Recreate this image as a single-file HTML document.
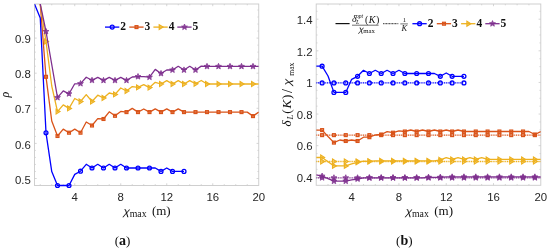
<!DOCTYPE html>
<html><head><meta charset="utf-8"><style>
html,body{margin:0;padding:0;background:#fff;}
body{width:550px;height:251px;overflow:hidden;font-family:"Liberation Sans",sans-serif;}
svg{display:block;will-change:transform;}
</style></head><body>
<svg width="550" height="251" viewBox="0 0 550 251">
<rect x="34.5" y="4.0" width="224.25" height="181.5" fill="none" stroke="#cbcbcb" stroke-width="0.9"/><path d="M74.75,185.5v-2.2M74.75,4.0v2.2M120.75,185.5v-2.2M120.75,4.0v2.2M166.75,185.5v-2.2M166.75,4.0v2.2M212.75,185.5v-2.2M212.75,4.0v2.2M40.25,185.5v-1.32M40.25,4.0v1.32M51.75,185.5v-1.32M51.75,4.0v1.32M63.25,185.5v-1.32M63.25,4.0v1.32M86.25,185.5v-1.32M86.25,4.0v1.32M97.75,185.5v-1.32M97.75,4.0v1.32M109.25,185.5v-1.32M109.25,4.0v1.32M132.25,185.5v-1.32M132.25,4.0v1.32M143.75,185.5v-1.32M143.75,4.0v1.32M155.25,185.5v-1.32M155.25,4.0v1.32M178.25,185.5v-1.32M178.25,4.0v1.32M189.75,185.5v-1.32M189.75,4.0v1.32M201.25,185.5v-1.32M201.25,4.0v1.32M224.25,185.5v-1.32M224.25,4.0v1.32M235.75,185.5v-1.32M235.75,4.0v1.32M247.25,185.5v-1.32M247.25,4.0v1.32M34.5,178.50h2.2M258.75,178.50h-2.2M34.5,143.40h2.2M258.75,143.40h-2.2M34.5,108.30h2.2M258.75,108.30h-2.2M34.5,73.20h2.2M258.75,73.20h-2.2M34.5,38.10h2.2M258.75,38.10h-2.2M34.5,171.48h1.32M258.75,171.48h-1.32M34.5,164.46h1.32M258.75,164.46h-1.32M34.5,157.44h1.32M258.75,157.44h-1.32M34.5,150.42h1.32M258.75,150.42h-1.32M34.5,136.38h1.32M258.75,136.38h-1.32M34.5,129.36h1.32M258.75,129.36h-1.32M34.5,122.34h1.32M258.75,122.34h-1.32M34.5,115.32h1.32M258.75,115.32h-1.32M34.5,101.28h1.32M258.75,101.28h-1.32M34.5,94.26h1.32M258.75,94.26h-1.32M34.5,87.24h1.32M258.75,87.24h-1.32M34.5,80.22h1.32M258.75,80.22h-1.32M34.5,66.18h1.32M258.75,66.18h-1.32M34.5,59.16h1.32M258.75,59.16h-1.32M34.5,52.14h1.32M258.75,52.14h-1.32M34.5,45.12h1.32M258.75,45.12h-1.32M34.5,31.08h1.32M258.75,31.08h-1.32M34.5,24.06h1.32M258.75,24.06h-1.32M34.5,17.04h1.32M258.75,17.04h-1.32M34.5,10.02h1.32M258.75,10.02h-1.32" stroke="#cbcbcb" stroke-width="0.8" fill="none"/>
<defs><clipPath id="cl"><rect x="34.5" y="4.0" width="224.25" height="184.5"/></clipPath><clipPath id="cr"><rect x="316.2" y="4" width="224.6" height="181.3"/></clipPath></defs>
<g clip-path="url(#cl)">
<polyline points="40.25,4.00 46.00,76.80 51.75,121.00 57.50,136.00 63.25,129.10 69.00,132.70 74.75,129.10 80.50,132.70 86.25,122.00 92.00,125.50 97.75,118.60 103.50,119.00 109.25,111.80 115.00,115.80 120.75,111.40 126.50,112.10 132.25,108.40 138.00,112.10 143.75,109.00 149.50,112.10 155.25,108.90 161.00,112.10 166.75,108.90 172.50,112.10 178.25,108.90 184.00,112.10 189.75,112.10 195.50,112.10 201.25,112.10 207.00,112.10 212.75,112.10 218.50,112.10 224.25,112.10 230.00,112.10 235.75,112.10 241.50,112.10 247.25,112.10 253.00,116.10 258.75,112.10" fill="none" stroke="#d95319" stroke-width="1.3" stroke-linejoin="round"/><rect x="44.55" y="75.35" width="2.90" height="2.90" fill="#d95319" fill-opacity="0.45" stroke="#d95319" stroke-width="1.2"/><rect x="56.05" y="134.55" width="2.90" height="2.90" fill="#d95319" fill-opacity="0.45" stroke="#d95319" stroke-width="1.2"/><rect x="67.55" y="131.25" width="2.90" height="2.90" fill="#d95319" fill-opacity="0.45" stroke="#d95319" stroke-width="1.2"/><rect x="79.05" y="131.25" width="2.90" height="2.90" fill="#d95319" fill-opacity="0.45" stroke="#d95319" stroke-width="1.2"/><rect x="90.55" y="124.05" width="2.90" height="2.90" fill="#d95319" fill-opacity="0.45" stroke="#d95319" stroke-width="1.2"/><rect x="102.05" y="117.55" width="2.90" height="2.90" fill="#d95319" fill-opacity="0.45" stroke="#d95319" stroke-width="1.2"/><rect x="113.55" y="114.35" width="2.90" height="2.90" fill="#d95319" fill-opacity="0.45" stroke="#d95319" stroke-width="1.2"/><rect x="125.05" y="110.65" width="2.90" height="2.90" fill="#d95319" fill-opacity="0.45" stroke="#d95319" stroke-width="1.2"/><rect x="136.55" y="110.65" width="2.90" height="2.90" fill="#d95319" fill-opacity="0.45" stroke="#d95319" stroke-width="1.2"/><rect x="148.05" y="110.65" width="2.90" height="2.90" fill="#d95319" fill-opacity="0.45" stroke="#d95319" stroke-width="1.2"/><rect x="159.55" y="110.65" width="2.90" height="2.90" fill="#d95319" fill-opacity="0.45" stroke="#d95319" stroke-width="1.2"/><rect x="171.05" y="110.65" width="2.90" height="2.90" fill="#d95319" fill-opacity="0.45" stroke="#d95319" stroke-width="1.2"/><rect x="182.55" y="110.65" width="2.90" height="2.90" fill="#d95319" fill-opacity="0.45" stroke="#d95319" stroke-width="1.2"/><rect x="194.05" y="110.65" width="2.90" height="2.90" fill="#d95319" fill-opacity="0.45" stroke="#d95319" stroke-width="1.2"/><rect x="205.55" y="110.65" width="2.90" height="2.90" fill="#d95319" fill-opacity="0.45" stroke="#d95319" stroke-width="1.2"/><rect x="217.05" y="110.65" width="2.90" height="2.90" fill="#d95319" fill-opacity="0.45" stroke="#d95319" stroke-width="1.2"/><rect x="228.55" y="110.65" width="2.90" height="2.90" fill="#d95319" fill-opacity="0.45" stroke="#d95319" stroke-width="1.2"/><rect x="240.05" y="110.65" width="2.90" height="2.90" fill="#d95319" fill-opacity="0.45" stroke="#d95319" stroke-width="1.2"/><rect x="251.55" y="114.65" width="2.90" height="2.90" fill="#d95319" fill-opacity="0.45" stroke="#d95319" stroke-width="1.2"/>
<polyline points="40.25,4.00 46.00,41.50 51.75,86.00 57.50,111.60 63.25,104.90 69.00,108.40 74.75,98.50 80.50,101.50 86.25,94.60 92.00,101.50 97.75,95.20 103.50,98.00 109.25,93.00 115.00,94.40 120.75,88.00 126.50,91.00 132.25,86.60 138.00,87.40 143.75,84.60 149.50,87.60 155.25,82.30 161.00,84.00 166.75,80.60 172.50,84.00 178.25,80.60 184.00,84.00 189.75,80.60 195.50,83.80 201.25,80.50 207.00,84.00 212.75,84.00 218.50,84.00 224.25,84.00 230.00,84.00 235.75,84.00 241.50,84.00 247.25,84.00 253.00,84.00 258.75,84.00" fill="none" stroke="#edb120" stroke-width="1.3" stroke-linejoin="round"/><polygon points="44.60,39.10 48.50,41.50 44.60,43.90" fill="#edb120" fill-opacity="0.45" stroke="#edb120" stroke-width="1.15" stroke-linejoin="miter"/><polygon points="56.10,109.20 60.00,111.60 56.10,114.00" fill="#edb120" fill-opacity="0.45" stroke="#edb120" stroke-width="1.15" stroke-linejoin="miter"/><polygon points="67.60,106.00 71.50,108.40 67.60,110.80" fill="#edb120" fill-opacity="0.45" stroke="#edb120" stroke-width="1.15" stroke-linejoin="miter"/><polygon points="79.10,99.10 83.00,101.50 79.10,103.90" fill="#edb120" fill-opacity="0.45" stroke="#edb120" stroke-width="1.15" stroke-linejoin="miter"/><polygon points="90.60,99.10 94.50,101.50 90.60,103.90" fill="#edb120" fill-opacity="0.45" stroke="#edb120" stroke-width="1.15" stroke-linejoin="miter"/><polygon points="102.10,95.60 106.00,98.00 102.10,100.40" fill="#edb120" fill-opacity="0.45" stroke="#edb120" stroke-width="1.15" stroke-linejoin="miter"/><polygon points="113.60,92.00 117.50,94.40 113.60,96.80" fill="#edb120" fill-opacity="0.45" stroke="#edb120" stroke-width="1.15" stroke-linejoin="miter"/><polygon points="125.10,88.60 129.00,91.00 125.10,93.40" fill="#edb120" fill-opacity="0.45" stroke="#edb120" stroke-width="1.15" stroke-linejoin="miter"/><polygon points="136.60,85.00 140.50,87.40 136.60,89.80" fill="#edb120" fill-opacity="0.45" stroke="#edb120" stroke-width="1.15" stroke-linejoin="miter"/><polygon points="148.10,85.20 152.00,87.60 148.10,90.00" fill="#edb120" fill-opacity="0.45" stroke="#edb120" stroke-width="1.15" stroke-linejoin="miter"/><polygon points="159.60,81.60 163.50,84.00 159.60,86.40" fill="#edb120" fill-opacity="0.45" stroke="#edb120" stroke-width="1.15" stroke-linejoin="miter"/><polygon points="171.10,81.60 175.00,84.00 171.10,86.40" fill="#edb120" fill-opacity="0.45" stroke="#edb120" stroke-width="1.15" stroke-linejoin="miter"/><polygon points="182.60,81.60 186.50,84.00 182.60,86.40" fill="#edb120" fill-opacity="0.45" stroke="#edb120" stroke-width="1.15" stroke-linejoin="miter"/><polygon points="194.10,81.40 198.00,83.80 194.10,86.20" fill="#edb120" fill-opacity="0.45" stroke="#edb120" stroke-width="1.15" stroke-linejoin="miter"/><polygon points="205.60,81.60 209.50,84.00 205.60,86.40" fill="#edb120" fill-opacity="0.45" stroke="#edb120" stroke-width="1.15" stroke-linejoin="miter"/><polygon points="217.10,81.60 221.00,84.00 217.10,86.40" fill="#edb120" fill-opacity="0.45" stroke="#edb120" stroke-width="1.15" stroke-linejoin="miter"/><polygon points="228.60,81.60 232.50,84.00 228.60,86.40" fill="#edb120" fill-opacity="0.45" stroke="#edb120" stroke-width="1.15" stroke-linejoin="miter"/><polygon points="240.10,81.60 244.00,84.00 240.10,86.40" fill="#edb120" fill-opacity="0.45" stroke="#edb120" stroke-width="1.15" stroke-linejoin="miter"/><polygon points="251.60,81.60 255.50,84.00 251.60,86.40" fill="#edb120" fill-opacity="0.45" stroke="#edb120" stroke-width="1.15" stroke-linejoin="miter"/>
<polyline points="40.25,4.00 46.00,31.50 51.75,64.50 57.50,97.60 63.25,90.80 69.00,93.80 74.75,83.80 80.50,83.60 86.25,77.20 92.00,80.30 97.75,77.40 103.50,80.40 109.25,77.40 115.00,80.40 120.75,77.40 126.50,80.40 132.25,77.00 138.00,76.60 143.75,76.60 149.50,77.20 155.25,69.40 161.00,73.50 166.75,70.00 172.50,70.00 178.25,66.30 184.00,70.00 189.75,66.30 195.50,70.00 201.25,66.10 207.00,66.40 212.75,66.40 218.50,66.40 224.25,66.40 230.00,66.40 235.75,66.40 241.50,66.40 247.25,66.40 253.00,66.40 258.75,66.40" fill="none" stroke="#7e2f8e" stroke-width="1.3" stroke-linejoin="round"/><polygon points="46.00,28.40 46.82,30.37 48.95,30.54 47.33,31.93 47.82,34.01 46.00,32.90 44.18,34.01 44.67,31.93 43.05,30.54 45.18,30.37" fill="#7e2f8e" fill-opacity="0.8" stroke="#7e2f8e" stroke-width="0.7" stroke-linejoin="miter"/><polygon points="57.50,94.50 58.32,96.47 60.45,96.64 58.83,98.03 59.32,100.11 57.50,99.00 55.68,100.11 56.17,98.03 54.55,96.64 56.68,96.47" fill="#7e2f8e" fill-opacity="0.8" stroke="#7e2f8e" stroke-width="0.7" stroke-linejoin="miter"/><polygon points="69.00,90.70 69.82,92.67 71.95,92.84 70.33,94.23 70.82,96.31 69.00,95.20 67.18,96.31 67.67,94.23 66.05,92.84 68.18,92.67" fill="#7e2f8e" fill-opacity="0.8" stroke="#7e2f8e" stroke-width="0.7" stroke-linejoin="miter"/><polygon points="80.50,80.50 81.32,82.47 83.45,82.64 81.83,84.03 82.32,86.11 80.50,85.00 78.68,86.11 79.17,84.03 77.55,82.64 79.68,82.47" fill="#7e2f8e" fill-opacity="0.8" stroke="#7e2f8e" stroke-width="0.7" stroke-linejoin="miter"/><polygon points="92.00,77.20 92.82,79.17 94.95,79.34 93.33,80.73 93.82,82.81 92.00,81.70 90.18,82.81 90.67,80.73 89.05,79.34 91.18,79.17" fill="#7e2f8e" fill-opacity="0.8" stroke="#7e2f8e" stroke-width="0.7" stroke-linejoin="miter"/><polygon points="103.50,77.30 104.32,79.27 106.45,79.44 104.83,80.83 105.32,82.91 103.50,81.80 101.68,82.91 102.17,80.83 100.55,79.44 102.68,79.27" fill="#7e2f8e" fill-opacity="0.8" stroke="#7e2f8e" stroke-width="0.7" stroke-linejoin="miter"/><polygon points="115.00,77.30 115.82,79.27 117.95,79.44 116.33,80.83 116.82,82.91 115.00,81.80 113.18,82.91 113.67,80.83 112.05,79.44 114.18,79.27" fill="#7e2f8e" fill-opacity="0.8" stroke="#7e2f8e" stroke-width="0.7" stroke-linejoin="miter"/><polygon points="126.50,77.30 127.32,79.27 129.45,79.44 127.83,80.83 128.32,82.91 126.50,81.80 124.68,82.91 125.17,80.83 123.55,79.44 125.68,79.27" fill="#7e2f8e" fill-opacity="0.8" stroke="#7e2f8e" stroke-width="0.7" stroke-linejoin="miter"/><polygon points="138.00,73.50 138.82,75.47 140.95,75.64 139.33,77.03 139.82,79.11 138.00,78.00 136.18,79.11 136.67,77.03 135.05,75.64 137.18,75.47" fill="#7e2f8e" fill-opacity="0.8" stroke="#7e2f8e" stroke-width="0.7" stroke-linejoin="miter"/><polygon points="149.50,74.10 150.32,76.07 152.45,76.24 150.83,77.63 151.32,79.71 149.50,78.60 147.68,79.71 148.17,77.63 146.55,76.24 148.68,76.07" fill="#7e2f8e" fill-opacity="0.8" stroke="#7e2f8e" stroke-width="0.7" stroke-linejoin="miter"/><polygon points="161.00,70.40 161.82,72.37 163.95,72.54 162.33,73.93 162.82,76.01 161.00,74.90 159.18,76.01 159.67,73.93 158.05,72.54 160.18,72.37" fill="#7e2f8e" fill-opacity="0.8" stroke="#7e2f8e" stroke-width="0.7" stroke-linejoin="miter"/><polygon points="172.50,66.90 173.32,68.87 175.45,69.04 173.83,70.43 174.32,72.51 172.50,71.40 170.68,72.51 171.17,70.43 169.55,69.04 171.68,68.87" fill="#7e2f8e" fill-opacity="0.8" stroke="#7e2f8e" stroke-width="0.7" stroke-linejoin="miter"/><polygon points="184.00,66.90 184.82,68.87 186.95,69.04 185.33,70.43 185.82,72.51 184.00,71.40 182.18,72.51 182.67,70.43 181.05,69.04 183.18,68.87" fill="#7e2f8e" fill-opacity="0.8" stroke="#7e2f8e" stroke-width="0.7" stroke-linejoin="miter"/><polygon points="195.50,66.90 196.32,68.87 198.45,69.04 196.83,70.43 197.32,72.51 195.50,71.40 193.68,72.51 194.17,70.43 192.55,69.04 194.68,68.87" fill="#7e2f8e" fill-opacity="0.8" stroke="#7e2f8e" stroke-width="0.7" stroke-linejoin="miter"/><polygon points="207.00,63.30 207.82,65.27 209.95,65.44 208.33,66.83 208.82,68.91 207.00,67.80 205.18,68.91 205.67,66.83 204.05,65.44 206.18,65.27" fill="#7e2f8e" fill-opacity="0.8" stroke="#7e2f8e" stroke-width="0.7" stroke-linejoin="miter"/><polygon points="218.50,63.30 219.32,65.27 221.45,65.44 219.83,66.83 220.32,68.91 218.50,67.80 216.68,68.91 217.17,66.83 215.55,65.44 217.68,65.27" fill="#7e2f8e" fill-opacity="0.8" stroke="#7e2f8e" stroke-width="0.7" stroke-linejoin="miter"/><polygon points="230.00,63.30 230.82,65.27 232.95,65.44 231.33,66.83 231.82,68.91 230.00,67.80 228.18,68.91 228.67,66.83 227.05,65.44 229.18,65.27" fill="#7e2f8e" fill-opacity="0.8" stroke="#7e2f8e" stroke-width="0.7" stroke-linejoin="miter"/><polygon points="241.50,63.30 242.32,65.27 244.45,65.44 242.83,66.83 243.32,68.91 241.50,67.80 239.68,68.91 240.17,66.83 238.55,65.44 240.68,65.27" fill="#7e2f8e" fill-opacity="0.8" stroke="#7e2f8e" stroke-width="0.7" stroke-linejoin="miter"/><polygon points="253.00,63.30 253.82,65.27 255.95,65.44 254.33,66.83 254.82,68.91 253.00,67.80 251.18,68.91 251.67,66.83 250.05,65.44 252.18,65.27" fill="#7e2f8e" fill-opacity="0.8" stroke="#7e2f8e" stroke-width="0.7" stroke-linejoin="miter"/>
<polyline points="34.50,4.00 40.25,17.90 46.00,132.80 51.75,171.60 57.50,185.50 63.25,185.50 69.00,185.50 74.75,174.40 80.50,171.20 86.25,164.30 92.00,168.00 97.75,164.30 103.50,168.00 109.25,164.30 115.00,168.00 120.75,164.30 126.50,168.00 132.25,168.00 138.00,168.00 143.75,168.00 149.50,168.00 155.25,168.00 161.00,171.40 166.75,168.00 172.50,171.40 178.25,171.40 184.00,171.40" fill="none" stroke="#0000ff" stroke-width="1.3" stroke-linejoin="round"/><circle cx="46.00" cy="132.80" r="1.95" fill="none" stroke="#0000ff" stroke-width="1.3"/><circle cx="57.50" cy="185.50" r="1.95" fill="none" stroke="#0000ff" stroke-width="1.3"/><circle cx="69.00" cy="185.50" r="1.95" fill="none" stroke="#0000ff" stroke-width="1.3"/><circle cx="80.50" cy="171.20" r="1.95" fill="none" stroke="#0000ff" stroke-width="1.3"/><circle cx="92.00" cy="168.00" r="1.95" fill="none" stroke="#0000ff" stroke-width="1.3"/><circle cx="103.50" cy="168.00" r="1.95" fill="none" stroke="#0000ff" stroke-width="1.3"/><circle cx="115.00" cy="168.00" r="1.95" fill="none" stroke="#0000ff" stroke-width="1.3"/><circle cx="126.50" cy="168.00" r="1.95" fill="none" stroke="#0000ff" stroke-width="1.3"/><circle cx="138.00" cy="168.00" r="1.95" fill="none" stroke="#0000ff" stroke-width="1.3"/><circle cx="149.50" cy="168.00" r="1.95" fill="none" stroke="#0000ff" stroke-width="1.3"/><circle cx="161.00" cy="171.40" r="1.95" fill="none" stroke="#0000ff" stroke-width="1.3"/><circle cx="172.50" cy="171.40" r="1.95" fill="none" stroke="#0000ff" stroke-width="1.3"/><circle cx="184.00" cy="171.40" r="1.95" fill="none" stroke="#0000ff" stroke-width="1.3"/>
</g>
<text x="30.8" y="43.20" text-anchor="end" font-family="Liberation Sans" font-size="11.4" fill="#262626">0.9</text>
<text x="30.8" y="78.30" text-anchor="end" font-family="Liberation Sans" font-size="11.4" fill="#262626">0.8</text>
<text x="30.8" y="113.40" text-anchor="end" font-family="Liberation Sans" font-size="11.4" fill="#262626">0.7</text>
<text x="30.8" y="148.50" text-anchor="end" font-family="Liberation Sans" font-size="11.4" fill="#262626">0.6</text>
<text x="30.8" y="183.60" text-anchor="end" font-family="Liberation Sans" font-size="11.4" fill="#262626">0.5</text>
<text x="74.75" y="200.7" text-anchor="middle" font-family="Liberation Sans" font-size="11.4" fill="#262626">4</text>
<text x="120.75" y="200.7" text-anchor="middle" font-family="Liberation Sans" font-size="11.4" fill="#262626">8</text>
<text x="166.75" y="200.7" text-anchor="middle" font-family="Liberation Sans" font-size="11.4" fill="#262626">12</text>
<text x="212.75" y="200.7" text-anchor="middle" font-family="Liberation Sans" font-size="11.4" fill="#262626">16</text>
<text x="258.75" y="200.7" text-anchor="middle" font-family="Liberation Sans" font-size="11.4" fill="#262626">20</text>
<text transform="translate(8.8,94.6) rotate(-90)" text-anchor="middle" font-family="Liberation Serif" font-style="italic" font-size="12" fill="#111">ρ</text>
<line x1="105.00" y1="27.1" x2="119.30" y2="27.1" stroke="#0000ff" stroke-width="1.3"/><circle cx="112.20" cy="27.10" r="1.95" fill="none" stroke="#0000ff" stroke-width="1.3"/><text x="120.30" y="29.90" font-family="Liberation Serif" font-weight="bold" font-size="11.5" fill="#111">2</text><line x1="129.30" y1="27.1" x2="143.60" y2="27.1" stroke="#d95319" stroke-width="1.3"/><rect x="135.05" y="25.65" width="2.90" height="2.90" fill="#d95319" fill-opacity="0.45" stroke="#d95319" stroke-width="1.2"/><text x="144.60" y="29.90" font-family="Liberation Serif" font-weight="bold" font-size="11.5" fill="#111">3</text><line x1="153.40" y1="27.1" x2="167.70" y2="27.1" stroke="#edb120" stroke-width="1.3"/><polygon points="159.20,24.70 163.10,27.10 159.20,29.50" fill="#edb120" fill-opacity="0.45" stroke="#edb120" stroke-width="1.15" stroke-linejoin="miter"/><text x="168.70" y="29.90" font-family="Liberation Serif" font-weight="bold" font-size="11.5" fill="#111">4</text><line x1="177.30" y1="27.1" x2="191.60" y2="27.1" stroke="#7e2f8e" stroke-width="1.3"/><polygon points="184.50,24.00 185.32,25.97 187.45,26.14 185.83,27.53 186.32,29.61 184.50,28.50 182.68,29.61 183.17,27.53 181.55,26.14 183.68,25.97" fill="#7e2f8e" fill-opacity="0.8" stroke="#7e2f8e" stroke-width="0.7" stroke-linejoin="miter"/><text x="192.60" y="29.90" font-family="Liberation Serif" font-weight="bold" font-size="11.5" fill="#111">5</text>
<text transform="translate(122.80,214.9) skewX(-14) scale(1.15,1)" font-family="Liberation Sans" font-size="10.6" fill="#111">χ</text><text x="129.70" y="217.2" font-family="Liberation Serif" font-size="9.8" fill="#111">max</text><text x="151.90" y="215.2" font-family="Liberation Serif" font-size="13" fill="#111">(m)</text>
<text transform="translate(405.10,214.9) skewX(-14) scale(1.15,1)" font-family="Liberation Sans" font-size="10.6" fill="#111">χ</text><text x="412.00" y="217.2" font-family="Liberation Serif" font-size="9.8" fill="#111">max</text><text x="434.20" y="215.2" font-family="Liberation Serif" font-size="13" fill="#111">(m)</text>
<text x="122.5" y="245.3" text-anchor="middle" font-family="Liberation Serif" font-size="13" fill="#111">(<tspan font-weight="bold" font-size="14">a</tspan>)</text>
<text x="404.3" y="245.3" text-anchor="middle" font-family="Liberation Serif" font-size="13" fill="#111">(<tspan font-weight="bold" font-size="14">b</tspan>)</text>
<rect x="316.2" y="4.0" width="224.59999999999997" height="181.3" fill="none" stroke="#cbcbcb" stroke-width="0.9"/><path d="M351.66,185.3v-2.2M351.66,4.0v2.2M398.94,185.3v-2.2M398.94,4.0v2.2M446.22,185.3v-2.2M446.22,4.0v2.2M493.50,185.3v-2.2M493.50,4.0v2.2M328.02,185.3v-1.32M328.02,4.0v1.32M339.84,185.3v-1.32M339.84,4.0v1.32M363.48,185.3v-1.32M363.48,4.0v1.32M375.30,185.3v-1.32M375.30,4.0v1.32M387.12,185.3v-1.32M387.12,4.0v1.32M410.76,185.3v-1.32M410.76,4.0v1.32M422.58,185.3v-1.32M422.58,4.0v1.32M434.40,185.3v-1.32M434.40,4.0v1.32M458.04,185.3v-1.32M458.04,4.0v1.32M469.86,185.3v-1.32M469.86,4.0v1.32M481.68,185.3v-1.32M481.68,4.0v1.32M505.32,185.3v-1.32M505.32,4.0v1.32M517.14,185.3v-1.32M517.14,4.0v1.32M528.96,185.3v-1.32M528.96,4.0v1.32M316.2,177.30h2.2M540.8,177.30h-2.2M316.2,145.68h2.2M540.8,145.68h-2.2M316.2,114.06h2.2M540.8,114.06h-2.2M316.2,82.44h2.2M540.8,82.44h-2.2M316.2,50.82h2.2M540.8,50.82h-2.2M316.2,19.20h2.2M540.8,19.20h-2.2M316.2,169.39h1.32M540.8,169.39h-1.32M316.2,161.49h1.32M540.8,161.49h-1.32M316.2,153.58h1.32M540.8,153.58h-1.32M316.2,137.77h1.32M540.8,137.77h-1.32M316.2,129.87h1.32M540.8,129.87h-1.32M316.2,121.96h1.32M540.8,121.96h-1.32M316.2,106.15h1.32M540.8,106.15h-1.32M316.2,98.25h1.32M540.8,98.25h-1.32M316.2,90.34h1.32M540.8,90.34h-1.32M316.2,74.53h1.32M540.8,74.53h-1.32M316.2,66.63h1.32M540.8,66.63h-1.32M316.2,58.72h1.32M540.8,58.72h-1.32M316.2,42.91h1.32M540.8,42.91h-1.32M316.2,35.01h1.32M540.8,35.01h-1.32M316.2,27.10h1.32M540.8,27.10h-1.32M316.2,11.29h1.32M540.8,11.29h-1.32" stroke="#cbcbcb" stroke-width="0.8" fill="none"/>
<g clip-path="url(#cr)">
<polyline points="316.20,135.13 322.11,135.13 328.02,135.13 333.93,135.13 339.84,135.13 345.75,135.13 351.66,135.13 357.57,135.13 363.48,135.13 369.39,135.13 375.30,135.13 381.21,135.13 387.12,135.13 393.03,135.13 398.94,135.13 404.85,135.13 410.76,135.13 416.67,135.13 422.58,135.13 428.49,135.13 434.40,135.13 440.31,135.13 446.22,135.13 452.13,135.13 458.04,135.13 463.95,135.13 469.86,135.13 475.77,135.13 481.68,135.13 487.59,135.13 493.50,135.13 499.41,135.13 505.32,135.13 511.23,135.13 517.14,135.13 523.05,135.13 528.96,135.13 534.87,135.13 540.78,135.13" fill="none" stroke="#d95319" stroke-width="1.3" stroke-linejoin="round" stroke-dasharray="1.1,0.7"/><rect x="320.66" y="133.68" width="2.90" height="2.90" fill="#d95319" fill-opacity="0.45" stroke="#d95319" stroke-width="1.2"/><rect x="332.48" y="133.68" width="2.90" height="2.90" fill="#d95319" fill-opacity="0.45" stroke="#d95319" stroke-width="1.2"/><rect x="344.30" y="133.68" width="2.90" height="2.90" fill="#d95319" fill-opacity="0.45" stroke="#d95319" stroke-width="1.2"/><rect x="356.12" y="133.68" width="2.90" height="2.90" fill="#d95319" fill-opacity="0.45" stroke="#d95319" stroke-width="1.2"/><rect x="367.94" y="133.68" width="2.90" height="2.90" fill="#d95319" fill-opacity="0.45" stroke="#d95319" stroke-width="1.2"/><rect x="379.76" y="133.68" width="2.90" height="2.90" fill="#d95319" fill-opacity="0.45" stroke="#d95319" stroke-width="1.2"/><rect x="391.58" y="133.68" width="2.90" height="2.90" fill="#d95319" fill-opacity="0.45" stroke="#d95319" stroke-width="1.2"/><rect x="403.40" y="133.68" width="2.90" height="2.90" fill="#d95319" fill-opacity="0.45" stroke="#d95319" stroke-width="1.2"/><rect x="415.22" y="133.68" width="2.90" height="2.90" fill="#d95319" fill-opacity="0.45" stroke="#d95319" stroke-width="1.2"/><rect x="427.04" y="133.68" width="2.90" height="2.90" fill="#d95319" fill-opacity="0.45" stroke="#d95319" stroke-width="1.2"/><rect x="438.86" y="133.68" width="2.90" height="2.90" fill="#d95319" fill-opacity="0.45" stroke="#d95319" stroke-width="1.2"/><rect x="450.68" y="133.68" width="2.90" height="2.90" fill="#d95319" fill-opacity="0.45" stroke="#d95319" stroke-width="1.2"/><rect x="462.50" y="133.68" width="2.90" height="2.90" fill="#d95319" fill-opacity="0.45" stroke="#d95319" stroke-width="1.2"/><rect x="474.32" y="133.68" width="2.90" height="2.90" fill="#d95319" fill-opacity="0.45" stroke="#d95319" stroke-width="1.2"/><rect x="486.14" y="133.68" width="2.90" height="2.90" fill="#d95319" fill-opacity="0.45" stroke="#d95319" stroke-width="1.2"/><rect x="497.96" y="133.68" width="2.90" height="2.90" fill="#d95319" fill-opacity="0.45" stroke="#d95319" stroke-width="1.2"/><rect x="509.78" y="133.68" width="2.90" height="2.90" fill="#d95319" fill-opacity="0.45" stroke="#d95319" stroke-width="1.2"/><rect x="521.60" y="133.68" width="2.90" height="2.90" fill="#d95319" fill-opacity="0.45" stroke="#d95319" stroke-width="1.2"/><rect x="533.42" y="133.68" width="2.90" height="2.90" fill="#d95319" fill-opacity="0.45" stroke="#d95319" stroke-width="1.2"/>
<polyline points="316.20,130.10 322.11,130.10 328.02,136.50 333.93,142.60 339.84,140.00 345.75,141.00 351.66,140.00 357.57,141.00 363.48,137.20 369.39,137.20 375.30,135.00 381.21,134.50 387.12,131.60 393.03,132.70 398.94,130.80 404.85,131.50 410.76,130.00 416.67,131.50 422.58,130.00 428.49,131.50 434.40,130.00 440.31,131.50 446.22,130.00 452.13,131.50 458.04,130.00 463.95,131.50 469.86,131.50 475.77,131.50 481.68,131.50 487.59,131.50 493.50,131.50 499.41,131.50 505.32,131.50 511.23,131.50 517.14,131.50 523.05,131.50 528.96,131.50 534.87,134.50 540.78,131.60" fill="none" stroke="#d95319" stroke-width="1.3" stroke-linejoin="round"/><rect x="320.66" y="128.65" width="2.90" height="2.90" fill="#d95319" fill-opacity="0.45" stroke="#d95319" stroke-width="1.2"/><rect x="332.48" y="141.15" width="2.90" height="2.90" fill="#d95319" fill-opacity="0.45" stroke="#d95319" stroke-width="1.2"/><rect x="344.30" y="139.55" width="2.90" height="2.90" fill="#d95319" fill-opacity="0.45" stroke="#d95319" stroke-width="1.2"/><rect x="356.12" y="139.55" width="2.90" height="2.90" fill="#d95319" fill-opacity="0.45" stroke="#d95319" stroke-width="1.2"/><rect x="367.94" y="135.75" width="2.90" height="2.90" fill="#d95319" fill-opacity="0.45" stroke="#d95319" stroke-width="1.2"/><rect x="379.76" y="133.05" width="2.90" height="2.90" fill="#d95319" fill-opacity="0.45" stroke="#d95319" stroke-width="1.2"/><rect x="391.58" y="131.25" width="2.90" height="2.90" fill="#d95319" fill-opacity="0.45" stroke="#d95319" stroke-width="1.2"/><rect x="403.40" y="130.05" width="2.90" height="2.90" fill="#d95319" fill-opacity="0.45" stroke="#d95319" stroke-width="1.2"/><rect x="415.22" y="130.05" width="2.90" height="2.90" fill="#d95319" fill-opacity="0.45" stroke="#d95319" stroke-width="1.2"/><rect x="427.04" y="130.05" width="2.90" height="2.90" fill="#d95319" fill-opacity="0.45" stroke="#d95319" stroke-width="1.2"/><rect x="438.86" y="130.05" width="2.90" height="2.90" fill="#d95319" fill-opacity="0.45" stroke="#d95319" stroke-width="1.2"/><rect x="450.68" y="130.05" width="2.90" height="2.90" fill="#d95319" fill-opacity="0.45" stroke="#d95319" stroke-width="1.2"/><rect x="462.50" y="130.05" width="2.90" height="2.90" fill="#d95319" fill-opacity="0.45" stroke="#d95319" stroke-width="1.2"/><rect x="474.32" y="130.05" width="2.90" height="2.90" fill="#d95319" fill-opacity="0.45" stroke="#d95319" stroke-width="1.2"/><rect x="486.14" y="130.05" width="2.90" height="2.90" fill="#d95319" fill-opacity="0.45" stroke="#d95319" stroke-width="1.2"/><rect x="497.96" y="130.05" width="2.90" height="2.90" fill="#d95319" fill-opacity="0.45" stroke="#d95319" stroke-width="1.2"/><rect x="509.78" y="130.05" width="2.90" height="2.90" fill="#d95319" fill-opacity="0.45" stroke="#d95319" stroke-width="1.2"/><rect x="521.60" y="130.05" width="2.90" height="2.90" fill="#d95319" fill-opacity="0.45" stroke="#d95319" stroke-width="1.2"/><rect x="533.42" y="133.05" width="2.90" height="2.90" fill="#d95319" fill-opacity="0.45" stroke="#d95319" stroke-width="1.2"/>
<polyline points="316.20,161.49 322.11,161.49 328.02,161.49 333.93,161.49 339.84,161.49 345.75,161.49 351.66,161.49 357.57,161.49 363.48,161.49 369.39,161.49 375.30,161.49 381.21,161.49 387.12,161.49 393.03,161.49 398.94,161.49 404.85,161.49 410.76,161.49 416.67,161.49 422.58,161.49 428.49,161.49 434.40,161.49 440.31,161.49 446.22,161.49 452.13,161.49 458.04,161.49 463.95,161.49 469.86,161.49 475.77,161.49 481.68,161.49 487.59,161.49 493.50,161.49 499.41,161.49 505.32,161.49 511.23,161.49 517.14,161.49 523.05,161.49 528.96,161.49 534.87,161.49 540.78,161.49" fill="none" stroke="#edb120" stroke-width="1.3" stroke-linejoin="round" stroke-dasharray="1.1,0.7"/><polygon points="320.71,159.09 324.61,161.49 320.71,163.89" fill="#edb120" fill-opacity="0.45" stroke="#edb120" stroke-width="1.15" stroke-linejoin="miter"/><polygon points="332.53,159.09 336.43,161.49 332.53,163.89" fill="#edb120" fill-opacity="0.45" stroke="#edb120" stroke-width="1.15" stroke-linejoin="miter"/><polygon points="344.35,159.09 348.25,161.49 344.35,163.89" fill="#edb120" fill-opacity="0.45" stroke="#edb120" stroke-width="1.15" stroke-linejoin="miter"/><polygon points="356.17,159.09 360.07,161.49 356.17,163.89" fill="#edb120" fill-opacity="0.45" stroke="#edb120" stroke-width="1.15" stroke-linejoin="miter"/><polygon points="367.99,159.09 371.89,161.49 367.99,163.89" fill="#edb120" fill-opacity="0.45" stroke="#edb120" stroke-width="1.15" stroke-linejoin="miter"/><polygon points="379.81,159.09 383.71,161.49 379.81,163.89" fill="#edb120" fill-opacity="0.45" stroke="#edb120" stroke-width="1.15" stroke-linejoin="miter"/><polygon points="391.63,159.09 395.53,161.49 391.63,163.89" fill="#edb120" fill-opacity="0.45" stroke="#edb120" stroke-width="1.15" stroke-linejoin="miter"/><polygon points="403.45,159.09 407.35,161.49 403.45,163.89" fill="#edb120" fill-opacity="0.45" stroke="#edb120" stroke-width="1.15" stroke-linejoin="miter"/><polygon points="415.27,159.09 419.17,161.49 415.27,163.89" fill="#edb120" fill-opacity="0.45" stroke="#edb120" stroke-width="1.15" stroke-linejoin="miter"/><polygon points="427.09,159.09 430.99,161.49 427.09,163.89" fill="#edb120" fill-opacity="0.45" stroke="#edb120" stroke-width="1.15" stroke-linejoin="miter"/><polygon points="438.91,159.09 442.81,161.49 438.91,163.89" fill="#edb120" fill-opacity="0.45" stroke="#edb120" stroke-width="1.15" stroke-linejoin="miter"/><polygon points="450.73,159.09 454.63,161.49 450.73,163.89" fill="#edb120" fill-opacity="0.45" stroke="#edb120" stroke-width="1.15" stroke-linejoin="miter"/><polygon points="462.55,159.09 466.45,161.49 462.55,163.89" fill="#edb120" fill-opacity="0.45" stroke="#edb120" stroke-width="1.15" stroke-linejoin="miter"/><polygon points="474.37,159.09 478.27,161.49 474.37,163.89" fill="#edb120" fill-opacity="0.45" stroke="#edb120" stroke-width="1.15" stroke-linejoin="miter"/><polygon points="486.19,159.09 490.09,161.49 486.19,163.89" fill="#edb120" fill-opacity="0.45" stroke="#edb120" stroke-width="1.15" stroke-linejoin="miter"/><polygon points="498.01,159.09 501.91,161.49 498.01,163.89" fill="#edb120" fill-opacity="0.45" stroke="#edb120" stroke-width="1.15" stroke-linejoin="miter"/><polygon points="509.83,159.09 513.73,161.49 509.83,163.89" fill="#edb120" fill-opacity="0.45" stroke="#edb120" stroke-width="1.15" stroke-linejoin="miter"/><polygon points="521.65,159.09 525.55,161.49 521.65,163.89" fill="#edb120" fill-opacity="0.45" stroke="#edb120" stroke-width="1.15" stroke-linejoin="miter"/><polygon points="533.47,159.09 537.37,161.49 533.47,163.89" fill="#edb120" fill-opacity="0.45" stroke="#edb120" stroke-width="1.15" stroke-linejoin="miter"/>
<polyline points="316.20,157.50 322.11,157.50 328.02,161.70 333.93,165.90 339.84,165.90 345.75,165.90 351.66,163.80 357.57,162.30 363.48,161.20 369.39,161.30 375.30,160.80 381.21,160.80 387.12,160.80 393.03,160.80 398.94,160.80 404.85,160.80 410.76,160.80 416.67,160.80 422.58,160.80 428.49,160.80 434.40,160.80 440.31,159.80 446.22,157.70 452.13,159.40 458.04,157.70 463.95,159.40 469.86,157.70 475.77,159.40 481.68,157.70 487.59,159.40 493.50,159.40 499.41,159.40 505.32,159.40 511.23,159.40 517.14,159.40 523.05,159.40 528.96,159.40 534.87,159.40 540.78,159.40" fill="none" stroke="#edb120" stroke-width="1.3" stroke-linejoin="round"/><polygon points="320.71,155.10 324.61,157.50 320.71,159.90" fill="#edb120" fill-opacity="0.45" stroke="#edb120" stroke-width="1.15" stroke-linejoin="miter"/><polygon points="332.53,163.50 336.43,165.90 332.53,168.30" fill="#edb120" fill-opacity="0.45" stroke="#edb120" stroke-width="1.15" stroke-linejoin="miter"/><polygon points="344.35,163.50 348.25,165.90 344.35,168.30" fill="#edb120" fill-opacity="0.45" stroke="#edb120" stroke-width="1.15" stroke-linejoin="miter"/><polygon points="356.17,159.90 360.07,162.30 356.17,164.70" fill="#edb120" fill-opacity="0.45" stroke="#edb120" stroke-width="1.15" stroke-linejoin="miter"/><polygon points="367.99,158.90 371.89,161.30 367.99,163.70" fill="#edb120" fill-opacity="0.45" stroke="#edb120" stroke-width="1.15" stroke-linejoin="miter"/><polygon points="379.81,158.40 383.71,160.80 379.81,163.20" fill="#edb120" fill-opacity="0.45" stroke="#edb120" stroke-width="1.15" stroke-linejoin="miter"/><polygon points="391.63,158.40 395.53,160.80 391.63,163.20" fill="#edb120" fill-opacity="0.45" stroke="#edb120" stroke-width="1.15" stroke-linejoin="miter"/><polygon points="403.45,158.40 407.35,160.80 403.45,163.20" fill="#edb120" fill-opacity="0.45" stroke="#edb120" stroke-width="1.15" stroke-linejoin="miter"/><polygon points="415.27,158.40 419.17,160.80 415.27,163.20" fill="#edb120" fill-opacity="0.45" stroke="#edb120" stroke-width="1.15" stroke-linejoin="miter"/><polygon points="427.09,158.40 430.99,160.80 427.09,163.20" fill="#edb120" fill-opacity="0.45" stroke="#edb120" stroke-width="1.15" stroke-linejoin="miter"/><polygon points="438.91,157.40 442.81,159.80 438.91,162.20" fill="#edb120" fill-opacity="0.45" stroke="#edb120" stroke-width="1.15" stroke-linejoin="miter"/><polygon points="450.73,157.00 454.63,159.40 450.73,161.80" fill="#edb120" fill-opacity="0.45" stroke="#edb120" stroke-width="1.15" stroke-linejoin="miter"/><polygon points="462.55,157.00 466.45,159.40 462.55,161.80" fill="#edb120" fill-opacity="0.45" stroke="#edb120" stroke-width="1.15" stroke-linejoin="miter"/><polygon points="474.37,157.00 478.27,159.40 474.37,161.80" fill="#edb120" fill-opacity="0.45" stroke="#edb120" stroke-width="1.15" stroke-linejoin="miter"/><polygon points="486.19,157.00 490.09,159.40 486.19,161.80" fill="#edb120" fill-opacity="0.45" stroke="#edb120" stroke-width="1.15" stroke-linejoin="miter"/><polygon points="498.01,157.00 501.91,159.40 498.01,161.80" fill="#edb120" fill-opacity="0.45" stroke="#edb120" stroke-width="1.15" stroke-linejoin="miter"/><polygon points="509.83,157.00 513.73,159.40 509.83,161.80" fill="#edb120" fill-opacity="0.45" stroke="#edb120" stroke-width="1.15" stroke-linejoin="miter"/><polygon points="521.65,157.00 525.55,159.40 521.65,161.80" fill="#edb120" fill-opacity="0.45" stroke="#edb120" stroke-width="1.15" stroke-linejoin="miter"/><polygon points="533.47,157.00 537.37,159.40 533.47,161.80" fill="#edb120" fill-opacity="0.45" stroke="#edb120" stroke-width="1.15" stroke-linejoin="miter"/>
<polyline points="316.20,177.80 322.11,177.80 328.02,177.80 333.93,177.80 339.84,177.80 345.75,177.80 351.66,177.80 357.57,177.80 363.48,177.80 369.39,177.80 375.30,177.80 381.21,177.80 387.12,177.80 393.03,177.80 398.94,177.80 404.85,177.80 410.76,177.80 416.67,177.80 422.58,177.80 428.49,177.80 434.40,177.80 440.31,177.80 446.22,177.80 452.13,177.80 458.04,177.80 463.95,177.80 469.86,177.80 475.77,177.80 481.68,177.80 487.59,177.80 493.50,177.80 499.41,177.80 505.32,177.80 511.23,177.80 517.14,177.80 523.05,177.80 528.96,177.80 534.87,177.80 540.78,177.80" fill="none" stroke="#7e2f8e" stroke-width="1.3" stroke-linejoin="round" stroke-dasharray="1.1,0.7"/><polygon points="322.11,174.70 322.93,176.67 325.06,176.84 323.44,178.23 323.93,180.31 322.11,179.20 320.29,180.31 320.78,178.23 319.16,176.84 321.29,176.67" fill="#7e2f8e" fill-opacity="0.8" stroke="#7e2f8e" stroke-width="0.7" stroke-linejoin="miter"/><polygon points="333.93,174.70 334.75,176.67 336.88,176.84 335.26,178.23 335.75,180.31 333.93,179.20 332.11,180.31 332.60,178.23 330.98,176.84 333.11,176.67" fill="#7e2f8e" fill-opacity="0.8" stroke="#7e2f8e" stroke-width="0.7" stroke-linejoin="miter"/><polygon points="345.75,174.70 346.57,176.67 348.70,176.84 347.08,178.23 347.57,180.31 345.75,179.20 343.93,180.31 344.42,178.23 342.80,176.84 344.93,176.67" fill="#7e2f8e" fill-opacity="0.8" stroke="#7e2f8e" stroke-width="0.7" stroke-linejoin="miter"/><polygon points="357.57,174.70 358.39,176.67 360.52,176.84 358.90,178.23 359.39,180.31 357.57,179.20 355.75,180.31 356.24,178.23 354.62,176.84 356.75,176.67" fill="#7e2f8e" fill-opacity="0.8" stroke="#7e2f8e" stroke-width="0.7" stroke-linejoin="miter"/><polygon points="369.39,174.70 370.21,176.67 372.34,176.84 370.72,178.23 371.21,180.31 369.39,179.20 367.57,180.31 368.06,178.23 366.44,176.84 368.57,176.67" fill="#7e2f8e" fill-opacity="0.8" stroke="#7e2f8e" stroke-width="0.7" stroke-linejoin="miter"/><polygon points="381.21,174.70 382.03,176.67 384.16,176.84 382.54,178.23 383.03,180.31 381.21,179.20 379.39,180.31 379.88,178.23 378.26,176.84 380.39,176.67" fill="#7e2f8e" fill-opacity="0.8" stroke="#7e2f8e" stroke-width="0.7" stroke-linejoin="miter"/><polygon points="393.03,174.70 393.85,176.67 395.98,176.84 394.36,178.23 394.85,180.31 393.03,179.20 391.21,180.31 391.70,178.23 390.08,176.84 392.21,176.67" fill="#7e2f8e" fill-opacity="0.8" stroke="#7e2f8e" stroke-width="0.7" stroke-linejoin="miter"/><polygon points="404.85,174.70 405.67,176.67 407.80,176.84 406.18,178.23 406.67,180.31 404.85,179.20 403.03,180.31 403.52,178.23 401.90,176.84 404.03,176.67" fill="#7e2f8e" fill-opacity="0.8" stroke="#7e2f8e" stroke-width="0.7" stroke-linejoin="miter"/><polygon points="416.67,174.70 417.49,176.67 419.62,176.84 418.00,178.23 418.49,180.31 416.67,179.20 414.85,180.31 415.34,178.23 413.72,176.84 415.85,176.67" fill="#7e2f8e" fill-opacity="0.8" stroke="#7e2f8e" stroke-width="0.7" stroke-linejoin="miter"/><polygon points="428.49,174.70 429.31,176.67 431.44,176.84 429.82,178.23 430.31,180.31 428.49,179.20 426.67,180.31 427.16,178.23 425.54,176.84 427.67,176.67" fill="#7e2f8e" fill-opacity="0.8" stroke="#7e2f8e" stroke-width="0.7" stroke-linejoin="miter"/><polygon points="440.31,174.70 441.13,176.67 443.26,176.84 441.64,178.23 442.13,180.31 440.31,179.20 438.49,180.31 438.98,178.23 437.36,176.84 439.49,176.67" fill="#7e2f8e" fill-opacity="0.8" stroke="#7e2f8e" stroke-width="0.7" stroke-linejoin="miter"/><polygon points="452.13,174.70 452.95,176.67 455.08,176.84 453.46,178.23 453.95,180.31 452.13,179.20 450.31,180.31 450.80,178.23 449.18,176.84 451.31,176.67" fill="#7e2f8e" fill-opacity="0.8" stroke="#7e2f8e" stroke-width="0.7" stroke-linejoin="miter"/><polygon points="463.95,174.70 464.77,176.67 466.90,176.84 465.28,178.23 465.77,180.31 463.95,179.20 462.13,180.31 462.62,178.23 461.00,176.84 463.13,176.67" fill="#7e2f8e" fill-opacity="0.8" stroke="#7e2f8e" stroke-width="0.7" stroke-linejoin="miter"/><polygon points="475.77,174.70 476.59,176.67 478.72,176.84 477.10,178.23 477.59,180.31 475.77,179.20 473.95,180.31 474.44,178.23 472.82,176.84 474.95,176.67" fill="#7e2f8e" fill-opacity="0.8" stroke="#7e2f8e" stroke-width="0.7" stroke-linejoin="miter"/><polygon points="487.59,174.70 488.41,176.67 490.54,176.84 488.92,178.23 489.41,180.31 487.59,179.20 485.77,180.31 486.26,178.23 484.64,176.84 486.77,176.67" fill="#7e2f8e" fill-opacity="0.8" stroke="#7e2f8e" stroke-width="0.7" stroke-linejoin="miter"/><polygon points="499.41,174.70 500.23,176.67 502.36,176.84 500.74,178.23 501.23,180.31 499.41,179.20 497.59,180.31 498.08,178.23 496.46,176.84 498.59,176.67" fill="#7e2f8e" fill-opacity="0.8" stroke="#7e2f8e" stroke-width="0.7" stroke-linejoin="miter"/><polygon points="511.23,174.70 512.05,176.67 514.18,176.84 512.56,178.23 513.05,180.31 511.23,179.20 509.41,180.31 509.90,178.23 508.28,176.84 510.41,176.67" fill="#7e2f8e" fill-opacity="0.8" stroke="#7e2f8e" stroke-width="0.7" stroke-linejoin="miter"/><polygon points="523.05,174.70 523.87,176.67 526.00,176.84 524.38,178.23 524.87,180.31 523.05,179.20 521.23,180.31 521.72,178.23 520.10,176.84 522.23,176.67" fill="#7e2f8e" fill-opacity="0.8" stroke="#7e2f8e" stroke-width="0.7" stroke-linejoin="miter"/><polygon points="534.87,174.70 535.69,176.67 537.82,176.84 536.20,178.23 536.69,180.31 534.87,179.20 533.05,180.31 533.54,178.23 531.92,176.84 534.05,176.67" fill="#7e2f8e" fill-opacity="0.8" stroke="#7e2f8e" stroke-width="0.7" stroke-linejoin="miter"/>
<polyline points="316.20,174.80 322.11,176.10 328.02,178.70 333.93,181.20 339.84,181.20 345.75,181.20 351.66,179.90 357.57,179.00 363.48,177.80 369.39,177.80 375.30,177.80 381.21,177.80 387.12,177.80 393.03,177.80 398.94,177.80 404.85,177.80 410.76,177.80 416.67,177.80 422.58,177.80 428.49,177.30 434.40,177.30 440.31,177.30 446.22,176.90 452.13,176.90 458.04,176.90 463.95,176.90 469.86,176.90 475.77,176.90 481.68,176.90 487.59,176.90 493.50,176.90 499.41,176.90 505.32,176.90 511.23,176.90 517.14,176.90 523.05,176.90 528.96,176.90 534.87,176.90 540.78,176.90" fill="none" stroke="#7e2f8e" stroke-width="1.3" stroke-linejoin="round"/><polygon points="322.11,173.00 322.93,174.97 325.06,175.14 323.44,176.53 323.93,178.61 322.11,177.50 320.29,178.61 320.78,176.53 319.16,175.14 321.29,174.97" fill="#7e2f8e" fill-opacity="0.8" stroke="#7e2f8e" stroke-width="0.7" stroke-linejoin="miter"/><polygon points="333.93,178.10 334.75,180.07 336.88,180.24 335.26,181.63 335.75,183.71 333.93,182.60 332.11,183.71 332.60,181.63 330.98,180.24 333.11,180.07" fill="#7e2f8e" fill-opacity="0.8" stroke="#7e2f8e" stroke-width="0.7" stroke-linejoin="miter"/><polygon points="345.75,178.10 346.57,180.07 348.70,180.24 347.08,181.63 347.57,183.71 345.75,182.60 343.93,183.71 344.42,181.63 342.80,180.24 344.93,180.07" fill="#7e2f8e" fill-opacity="0.8" stroke="#7e2f8e" stroke-width="0.7" stroke-linejoin="miter"/><polygon points="357.57,175.90 358.39,177.87 360.52,178.04 358.90,179.43 359.39,181.51 357.57,180.40 355.75,181.51 356.24,179.43 354.62,178.04 356.75,177.87" fill="#7e2f8e" fill-opacity="0.8" stroke="#7e2f8e" stroke-width="0.7" stroke-linejoin="miter"/><polygon points="369.39,174.70 370.21,176.67 372.34,176.84 370.72,178.23 371.21,180.31 369.39,179.20 367.57,180.31 368.06,178.23 366.44,176.84 368.57,176.67" fill="#7e2f8e" fill-opacity="0.8" stroke="#7e2f8e" stroke-width="0.7" stroke-linejoin="miter"/><polygon points="381.21,174.70 382.03,176.67 384.16,176.84 382.54,178.23 383.03,180.31 381.21,179.20 379.39,180.31 379.88,178.23 378.26,176.84 380.39,176.67" fill="#7e2f8e" fill-opacity="0.8" stroke="#7e2f8e" stroke-width="0.7" stroke-linejoin="miter"/><polygon points="393.03,174.70 393.85,176.67 395.98,176.84 394.36,178.23 394.85,180.31 393.03,179.20 391.21,180.31 391.70,178.23 390.08,176.84 392.21,176.67" fill="#7e2f8e" fill-opacity="0.8" stroke="#7e2f8e" stroke-width="0.7" stroke-linejoin="miter"/><polygon points="404.85,174.70 405.67,176.67 407.80,176.84 406.18,178.23 406.67,180.31 404.85,179.20 403.03,180.31 403.52,178.23 401.90,176.84 404.03,176.67" fill="#7e2f8e" fill-opacity="0.8" stroke="#7e2f8e" stroke-width="0.7" stroke-linejoin="miter"/><polygon points="416.67,174.70 417.49,176.67 419.62,176.84 418.00,178.23 418.49,180.31 416.67,179.20 414.85,180.31 415.34,178.23 413.72,176.84 415.85,176.67" fill="#7e2f8e" fill-opacity="0.8" stroke="#7e2f8e" stroke-width="0.7" stroke-linejoin="miter"/><polygon points="428.49,174.20 429.31,176.17 431.44,176.34 429.82,177.73 430.31,179.81 428.49,178.70 426.67,179.81 427.16,177.73 425.54,176.34 427.67,176.17" fill="#7e2f8e" fill-opacity="0.8" stroke="#7e2f8e" stroke-width="0.7" stroke-linejoin="miter"/><polygon points="440.31,174.20 441.13,176.17 443.26,176.34 441.64,177.73 442.13,179.81 440.31,178.70 438.49,179.81 438.98,177.73 437.36,176.34 439.49,176.17" fill="#7e2f8e" fill-opacity="0.8" stroke="#7e2f8e" stroke-width="0.7" stroke-linejoin="miter"/><polygon points="452.13,173.80 452.95,175.77 455.08,175.94 453.46,177.33 453.95,179.41 452.13,178.30 450.31,179.41 450.80,177.33 449.18,175.94 451.31,175.77" fill="#7e2f8e" fill-opacity="0.8" stroke="#7e2f8e" stroke-width="0.7" stroke-linejoin="miter"/><polygon points="463.95,173.80 464.77,175.77 466.90,175.94 465.28,177.33 465.77,179.41 463.95,178.30 462.13,179.41 462.62,177.33 461.00,175.94 463.13,175.77" fill="#7e2f8e" fill-opacity="0.8" stroke="#7e2f8e" stroke-width="0.7" stroke-linejoin="miter"/><polygon points="475.77,173.80 476.59,175.77 478.72,175.94 477.10,177.33 477.59,179.41 475.77,178.30 473.95,179.41 474.44,177.33 472.82,175.94 474.95,175.77" fill="#7e2f8e" fill-opacity="0.8" stroke="#7e2f8e" stroke-width="0.7" stroke-linejoin="miter"/><polygon points="487.59,173.80 488.41,175.77 490.54,175.94 488.92,177.33 489.41,179.41 487.59,178.30 485.77,179.41 486.26,177.33 484.64,175.94 486.77,175.77" fill="#7e2f8e" fill-opacity="0.8" stroke="#7e2f8e" stroke-width="0.7" stroke-linejoin="miter"/><polygon points="499.41,173.80 500.23,175.77 502.36,175.94 500.74,177.33 501.23,179.41 499.41,178.30 497.59,179.41 498.08,177.33 496.46,175.94 498.59,175.77" fill="#7e2f8e" fill-opacity="0.8" stroke="#7e2f8e" stroke-width="0.7" stroke-linejoin="miter"/><polygon points="511.23,173.80 512.05,175.77 514.18,175.94 512.56,177.33 513.05,179.41 511.23,178.30 509.41,179.41 509.90,177.33 508.28,175.94 510.41,175.77" fill="#7e2f8e" fill-opacity="0.8" stroke="#7e2f8e" stroke-width="0.7" stroke-linejoin="miter"/><polygon points="523.05,173.80 523.87,175.77 526.00,175.94 524.38,177.33 524.87,179.41 523.05,178.30 521.23,179.41 521.72,177.33 520.10,175.94 522.23,175.77" fill="#7e2f8e" fill-opacity="0.8" stroke="#7e2f8e" stroke-width="0.7" stroke-linejoin="miter"/><polygon points="534.87,173.80 535.69,175.77 537.82,175.94 536.20,177.33 536.69,179.41 534.87,178.30 533.05,179.41 533.54,177.33 531.92,175.94 534.05,175.77" fill="#7e2f8e" fill-opacity="0.8" stroke="#7e2f8e" stroke-width="0.7" stroke-linejoin="miter"/>
<polyline points="316.20,82.94 322.11,82.94 328.02,82.94 333.93,82.94 339.84,82.94 345.75,82.94 351.66,82.94 357.57,82.94 363.48,82.94 369.39,82.94 375.30,82.94 381.21,82.94 387.12,82.94 393.03,82.94 398.94,82.94 404.85,82.94 410.76,82.94 416.67,82.94 422.58,82.94 428.49,82.94 434.40,82.94 440.31,82.94 446.22,82.94 452.13,82.94 458.04,82.94 463.95,82.94" fill="none" stroke="#0000ff" stroke-width="1.3" stroke-linejoin="round" stroke-dasharray="1.1,0.7"/><circle cx="322.11" cy="82.94" r="1.95" fill="none" stroke="#0000ff" stroke-width="1.3"/><circle cx="333.93" cy="82.94" r="1.95" fill="none" stroke="#0000ff" stroke-width="1.3"/><circle cx="345.75" cy="82.94" r="1.95" fill="none" stroke="#0000ff" stroke-width="1.3"/><circle cx="357.57" cy="82.94" r="1.95" fill="none" stroke="#0000ff" stroke-width="1.3"/><circle cx="369.39" cy="82.94" r="1.95" fill="none" stroke="#0000ff" stroke-width="1.3"/><circle cx="381.21" cy="82.94" r="1.95" fill="none" stroke="#0000ff" stroke-width="1.3"/><circle cx="393.03" cy="82.94" r="1.95" fill="none" stroke="#0000ff" stroke-width="1.3"/><circle cx="404.85" cy="82.94" r="1.95" fill="none" stroke="#0000ff" stroke-width="1.3"/><circle cx="416.67" cy="82.94" r="1.95" fill="none" stroke="#0000ff" stroke-width="1.3"/><circle cx="428.49" cy="82.94" r="1.95" fill="none" stroke="#0000ff" stroke-width="1.3"/><circle cx="440.31" cy="82.94" r="1.95" fill="none" stroke="#0000ff" stroke-width="1.3"/><circle cx="452.13" cy="82.94" r="1.95" fill="none" stroke="#0000ff" stroke-width="1.3"/><circle cx="463.95" cy="82.94" r="1.95" fill="none" stroke="#0000ff" stroke-width="1.3"/>
<polyline points="316.20,66.20 322.11,66.20 328.02,76.00 333.93,92.40 339.84,92.40 345.75,92.40 351.66,79.30 357.57,76.30 363.48,70.30 369.39,73.50 375.30,70.30 381.21,73.50 387.12,70.30 393.03,73.50 398.94,70.30 404.85,73.50 410.76,73.50 416.67,73.50 422.58,73.50 428.49,73.50 434.40,73.50 440.31,76.30 446.22,73.00 452.13,76.30 458.04,76.30 463.95,76.30" fill="none" stroke="#0000ff" stroke-width="1.3" stroke-linejoin="round"/><circle cx="322.11" cy="66.20" r="1.95" fill="none" stroke="#0000ff" stroke-width="1.3"/><circle cx="333.93" cy="92.40" r="1.95" fill="none" stroke="#0000ff" stroke-width="1.3"/><circle cx="345.75" cy="92.40" r="1.95" fill="none" stroke="#0000ff" stroke-width="1.3"/><circle cx="357.57" cy="76.30" r="1.95" fill="none" stroke="#0000ff" stroke-width="1.3"/><circle cx="369.39" cy="73.50" r="1.95" fill="none" stroke="#0000ff" stroke-width="1.3"/><circle cx="381.21" cy="73.50" r="1.95" fill="none" stroke="#0000ff" stroke-width="1.3"/><circle cx="393.03" cy="73.50" r="1.95" fill="none" stroke="#0000ff" stroke-width="1.3"/><circle cx="404.85" cy="73.50" r="1.95" fill="none" stroke="#0000ff" stroke-width="1.3"/><circle cx="416.67" cy="73.50" r="1.95" fill="none" stroke="#0000ff" stroke-width="1.3"/><circle cx="428.49" cy="73.50" r="1.95" fill="none" stroke="#0000ff" stroke-width="1.3"/><circle cx="440.31" cy="76.30" r="1.95" fill="none" stroke="#0000ff" stroke-width="1.3"/><circle cx="452.13" cy="76.30" r="1.95" fill="none" stroke="#0000ff" stroke-width="1.3"/><circle cx="463.95" cy="76.30" r="1.95" fill="none" stroke="#0000ff" stroke-width="1.3"/>
</g>
<text x="312.6" y="24.00" text-anchor="end" font-family="Liberation Sans" font-size="11.4" fill="#262626">1.4</text>
<text x="312.6" y="55.62" text-anchor="end" font-family="Liberation Sans" font-size="11.4" fill="#262626">1.2</text>
<text x="312.6" y="87.24" text-anchor="end" font-family="Liberation Sans" font-size="11.4" fill="#262626">1</text>
<text x="312.6" y="118.86" text-anchor="end" font-family="Liberation Sans" font-size="11.4" fill="#262626">0.8</text>
<text x="312.6" y="150.48" text-anchor="end" font-family="Liberation Sans" font-size="11.4" fill="#262626">0.6</text>
<text x="312.6" y="182.10" text-anchor="end" font-family="Liberation Sans" font-size="11.4" fill="#262626">0.4</text>
<text x="351.66" y="200.7" text-anchor="middle" font-family="Liberation Sans" font-size="11.4" fill="#262626">4</text>
<text x="398.94" y="200.7" text-anchor="middle" font-family="Liberation Sans" font-size="11.4" fill="#262626">8</text>
<text x="446.22" y="200.7" text-anchor="middle" font-family="Liberation Sans" font-size="11.4" fill="#262626">12</text>
<text x="493.50" y="200.7" text-anchor="middle" font-family="Liberation Sans" font-size="11.4" fill="#262626">16</text>
<text x="540.78" y="200.7" text-anchor="middle" font-family="Liberation Sans" font-size="11.4" fill="#262626">20</text>
<g transform="translate(291,95) rotate(-90)" font-family="Liberation Serif" fill="#111"><text x="-31.4" y="0" font-size="13" letter-spacing="0.9"><tspan font-style="italic">δ</tspan><tspan font-style="italic" font-size="8.5" dy="2">L</tspan><tspan dy="-2">(</tspan><tspan font-style="italic">K</tspan>)</text><text x="2.0" y="1.2" font-size="14.5">/</text><text transform="translate(8.9,0.4) skewX(-14) scale(1.15,1)" font-family="Liberation Sans" font-size="10.6">χ</text><text x="19.3" y="2.6" font-size="7.6">max</text></g>
<line x1="335.5" y1="23.6" x2="349.6" y2="23.6" stroke="#111" stroke-width="1.2"/>
<g font-family="Liberation Serif" fill="#111"><text x="352.1" y="21.6" font-style="italic" font-size="10">δ</text><text x="356.0" y="17.6" font-style="italic" font-size="5.6">opt</text><text x="355.9" y="23.6" font-style="italic" font-size="6.2">L</text><text x="364.9" y="22.7" font-size="10" letter-spacing="0.6">(<tspan font-style="italic">K</tspan>)</text></g>
<line x1="352" y1="25.2" x2="378.6" y2="25.2" stroke="#111" stroke-width="0.6"/>
<g font-family="Liberation Serif" fill="#111"><text transform="translate(358.2,31.5) skewX(-14) scale(1.15,1)" font-family="Liberation Sans" font-size="8.2">χ</text><text x="363.2" y="33.0" font-size="6.8">max</text></g>
<line x1="383.1" y1="23.7" x2="398.4" y2="23.7" stroke="#222" stroke-width="1.0" stroke-dasharray="1,0.5"/>
<text x="404.4" y="22.1" text-anchor="middle" font-family="Liberation Serif" font-size="6.6" fill="#111">1</text>
<line x1="400.3" y1="23.9" x2="407.9" y2="23.9" stroke="#111" stroke-width="0.6"/>
<text x="404.4" y="31.4" text-anchor="middle" font-family="Liberation Serif" font-style="italic" font-size="8.5" fill="#111">K</text>
<line x1="412.40" y1="23.7" x2="426.70" y2="23.7" stroke="#0000ff" stroke-width="1.3"/><circle cx="419.60" cy="23.70" r="1.95" fill="none" stroke="#0000ff" stroke-width="1.3"/><text x="427.70" y="26.90" font-family="Liberation Serif" font-weight="bold" font-size="11.5" fill="#111">2</text><line x1="436.80" y1="23.7" x2="451.10" y2="23.7" stroke="#d95319" stroke-width="1.3"/><rect x="442.55" y="22.25" width="2.90" height="2.90" fill="#d95319" fill-opacity="0.45" stroke="#d95319" stroke-width="1.2"/><text x="452.10" y="26.90" font-family="Liberation Serif" font-weight="bold" font-size="11.5" fill="#111">3</text><line x1="461.10" y1="23.7" x2="475.40" y2="23.7" stroke="#edb120" stroke-width="1.3"/><polygon points="466.90,21.30 470.80,23.70 466.90,26.10" fill="#edb120" fill-opacity="0.45" stroke="#edb120" stroke-width="1.15" stroke-linejoin="miter"/><text x="476.40" y="26.90" font-family="Liberation Serif" font-weight="bold" font-size="11.5" fill="#111">4</text><line x1="485.30" y1="23.7" x2="499.60" y2="23.7" stroke="#7e2f8e" stroke-width="1.3"/><polygon points="492.50,20.60 493.32,22.57 495.45,22.74 493.83,24.13 494.32,26.21 492.50,25.10 490.68,26.21 491.17,24.13 489.55,22.74 491.68,22.57" fill="#7e2f8e" fill-opacity="0.8" stroke="#7e2f8e" stroke-width="0.7" stroke-linejoin="miter"/><text x="500.60" y="26.90" font-family="Liberation Serif" font-weight="bold" font-size="11.5" fill="#111">5</text>
</svg>
</body></html>
